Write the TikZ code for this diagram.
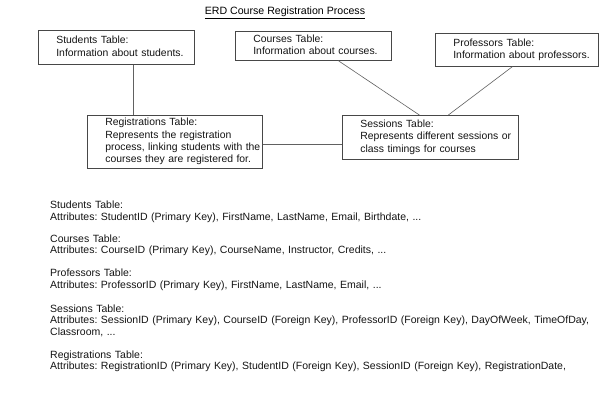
\documentclass[tikz,border=0pt]{standalone}
\usepackage{fontspec}
\setmainfont{Liberation Sans}
\frenchspacing
\newcommand\boxtext[1]{\begin{tabular}{@{\hspace{17pt}}l@{}}#1\end{tabular}}
\begin{document}
\begin{tikzpicture}[x=1pt,y=-1pt,
  tbl/.style={draw=black!72, line width=0.7pt, inner xsep=1pt, inner ysep=0pt,
    anchor=north west, font=\fontsize{10.4}{12.4}\selectfont, text=black!92},
  link/.style={draw=black!62, line width=0.6pt},
  attr/.style={anchor=base west, inner sep=0pt, align=left, text width=560pt,
    font=\fontsize{10.5}{11.5}\selectfont, text=black!92}]
\useasboundingbox[fill=white] (0,0) rectangle (611,418);

\node[inner sep=0pt, font=\fontsize{10.6}{12}\selectfont] (title) at (285,13) {\underline{ERD Course Registration Process}};

\node[tbl, text width=154pt, minimum height=34pt] (students) at (38,30)
  {\boxtext{Students Table:\\Information about students.}};
\node[tbl, text width=154pt, minimum height=29pt] (courses) at (235,31)
  {\boxtext{Courses Table:\\Information about courses.}};
\node[tbl, text width=161pt, minimum height=33pt] (professors) at (435,33)
  {\boxtext{Professors Table:\\Information about professors.}};
\node[tbl, text width=173pt, minimum height=53pt] (reg) at (87,115)
  {\boxtext{Registrations Table:\\Represents the registration\\process, linking students with the\\courses they are registered for.}};
\node[tbl, text width=174pt, minimum height=44pt] (sessions) at (342,115)
  {\boxtext{Sessions Table:\\Represents different sessions or\\class timings for courses}};

\draw[link] ([xshift=17pt]students.south) -- ([xshift=17pt]students.south |- reg.north);
\draw[link] ([xshift=25pt]courses.south) -- ([xshift=-11pt]sessions.north);
\draw[link] ([xshift=-4.5pt]professors.south) -- ([xshift=18pt]sessions.north);
\draw[link] ([yshift=-2.5pt]reg.east) -- ([yshift=-2.5pt]reg.east -| sessions.west);

\node[attr] (astudents) at (50,208.8)
  {Students Table:\\Attributes: StudentID (Primary Key), FirstName, LastName, Email, Birthdate, ...};
\node[attr] (acourses) at (50,242.3)
  {Courses Table:\\Attributes: CourseID (Primary Key), CourseName, Instructor, Credits, ...};
\node[attr] (aprofessors) at (50,276.8)
  {Professors Table:\\Attributes: ProfessorID (Primary Key), FirstName, LastName, Email, ...};
\node[attr] (asessions) at (50,312.3)
  {Sessions Table:\\Attributes: SessionID (Primary Key), CourseID (Foreign Key), ProfessorID (Foreign Key), DayOfWeek, TimeOfDay,\\Classroom, ...};
\node[attr] (aregs) at (50,358.3)
  {Registrations Table:\\Attributes: RegistrationID (Primary Key), StudentID (Foreign Key), SessionID (Foreign Key), RegistrationDate,};
\end{tikzpicture}
\end{document}
